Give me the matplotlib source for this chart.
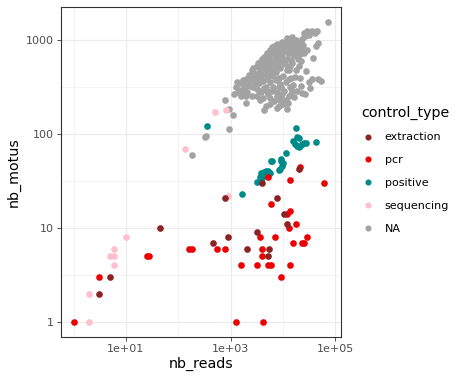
import matplotlib
matplotlib.use("Agg")
import matplotlib.pyplot as plt
from matplotlib.lines import Line2D
import numpy as np

# ---- data (nb_reads, nb_motus) per control_type ----
extraction_reads = [3, 5, 45, 468, 790, 877, 2050, 3170, 5370, 5300, 7740, 10700, 12000, 4070, 20000]
extraction_motus = [2, 3, 10, 7, 21, 8, 6, 9, 6, 5, 21, 14, 11, 30, 42]

pcr_reads = [1, 3, 25, 28, 163, 181, 557, 780, 1265, 4150, 1600, 3170, 3670, 3900, 3900,
             5200, 5960, 5860, 6980, 9350, 12000, 13900, 13100, 15600, 17600, 13900,
             23200, 24900, 29300, 5210, 13500, 20900, 61700]
pcr_motus = [1, 3, 5, 5, 6, 6, 6, 6, 1, 1, 4, 4, 8, 6, 5,
             4, 4, 18, 8, 3, 14, 15, 10, 7, 11, 4,
             7, 7, 8, 35, 32, 44, 30]

positive_reads = [360, 1670, 3220, 3620, 3840, 4310, 4710, 5140, 5610, 3950, 4190, 5800, 6200,
                  9230, 9050, 10070, 9500, 8720, 8300, 11670, 15400, 18600, 20000, 18100,
                  17300, 18600, 20000, 21500, 23200, 24900, 27700, 42900]
positive_motus = [120, 23, 31, 35, 38, 39, 40, 40, 38, 34, 36, 51, 51,
                  54, 51, 49, 46, 42, 41, 62, 85, 92, 90, 117,
                  78, 75, 72, 75, 78, 80, 81, 83]

sequencing_reads = [2, 2, 6, 5, 6, 6, 10, 133, 500, 826, 880]
sequencing_motus = [1, 2, 4, 5, 5, 6, 8, 69, 169, 180, 22]

na_reads = [776, 933, 1096, 933, 320, 339, 183, 74130,
            25119, 28840, 36310, 44670, 26920, 30900, 41690, 23440, 47860, 43650, 37150, 47860, 53700,
            1148, 1259, 1380, 1514, 1585, 1778, 1995, 1950, 2239, 2344, 2570, 2754, 3020, 3236, 3467,
            3715, 3981, 4266, 4266, 4677, 5012, 5012, 5370, 5754, 5888, 6166, 6761, 6918, 7244, 7762,
            7943, 8710, 8913, 9550, 10000, 10470, 11220, 11750, 12300, 12880, 13800, 14450, 14790,
            16220, 17380, 18620, 19950, 23440, 25700, 28840, 28180, 22390, 16220,
            4266, 4677, 5623, 6761, 7586, 8913, 11750, 11220, 12880, 9550, 7762, 5754, 3236, 2570,
            3715, 1995, 18620, 23440, 26920, 33110, 30900, 36310,
            1660, 1862, 2089, 2239, 2399, 2630, 2818, 2951, 3162, 3311, 3548, 3715, 3802, 3981, 4169,
            4467, 4571, 4786, 5012, 5248, 5495, 5623, 6026, 6310, 6457, 6607, 7079, 7244, 7413, 7586,
            8128, 8318, 8511, 8913, 9333, 9772, 10230, 10720, 10960, 11480, 12020, 12590, 13180, 13490,
            14130, 14790, 15140, 15850, 16600, 16980, 17780, 19050, 19950, 20890, 21380,
            9120, 10000, 8318, 5248, 4169, 14130, 12590, 12020, 15140, 17780,
            1318, 1479, 1738, 1905, 2138, 2512, 2692, 2884, 3388, 3631, 4074, 4365, 4898, 5129, 5754,
            6166, 6607, 6918, 7586, 7943, 8710, 9333, 10000, 10720, 11480, 12880, 13800, 15490, 18200,
            20890, 22390, 23990, 5012, 8318, 13490]
na_motus = [229, 182, 158, 112, 92, 94, 60, 1549,
            1175, 1230, 1259, 1259, 1096, 1122, 1175, 1023, 933, 871, 646, 380, 363,
            269, 316, 282, 347, 251, 309, 214, 380, 427, 324, 479, 380, 309, 525, 347,
            589, 427, 661, 309, 525, 724, 380, 589, 776, 468, 288, 851, 646, 372, 912,
            525, 724, 339, 955, 589, 288, 891, 479, 724, 380, 955, 617, 288,
            851, 407, 759, 525, 776, 724, 776, 468, 324, 245,
            178, 200, 209, 224, 191, 229, 186, 229, 251, 263, 251, 240, 251, 251,
            229, 251, 288, 275, 269, 309, 355, 380,
            282, 355, 282, 363, 417, 316, 447, 355, 417, 295, 501, 398, 282, 550, 363,
            457, 603, 316, 501, 417, 661, 355, 550, 724, 417, 316, 575, 794, 457, 282,
            661, 398, 832, 501, 316, 708, 417, 832, 550, 355, 631, 891, 479, 724,
            398, 832, 562, 331, 692, 955, 479, 631, 871, 398, 708,
            251, 209, 200, 263, 240, 263, 214, 1047, 1072, 1000,
            355, 295, 372, 316, 398, 380, 501, 398, 562, 457, 631, 501, 692, 575, 501,
            832, 603, 501, 724, 891, 603, 832, 759, 631, 955, 794, 525, 759, 832,
            955, 603, 891, 288, 316, 316]

categories = ["extraction", "pcr", "positive", "sequencing", "NA"]
colors = {"extraction": "#8B2323", "pcr": "#EE0000", "positive": "#008B8B",
          "sequencing": "#FFC0CB", "NA": "#A3A3A3"}

x_breaks = [10, 1000, 100000]
x_labels = ["1e+01", "1e+03", "1e+05"]
y_breaks = [1, 10, 100, 1000]
y_labels = ["1", "10", "100", "1000"]

fig = plt.figure(figsize=(4.74, 3.79), dpi=100)
ax = fig.add_axes([61/474, 1-337/379, 280/474, 330/379])

S = 23
series = [("NA", na_reads, na_motus),
          ("sequencing", sequencing_reads, sequencing_motus),
          ("positive", positive_reads, positive_motus),
          ("pcr", pcr_reads, pcr_motus),
          ("extraction", extraction_reads, extraction_motus)]
for name, xs, ys in series:
    ax.scatter(xs, ys, s=S, c=colors[name], linewidths=0, zorder=3)

ax.set_xscale("log")
ax.set_yscale("log")
ax.set_xlim(10**-0.24, 10**5.11)
ax.set_ylim(10**-0.16, 10**3.35)

ax.set_xticks(x_breaks)
ax.set_xticklabels(x_labels)
ax.set_yticks(y_breaks)
ax.set_yticklabels(y_labels)
ax.xaxis.set_minor_locator(matplotlib.ticker.FixedLocator([1, 100, 10000]))
ax.yaxis.set_minor_locator(matplotlib.ticker.FixedLocator([10**0.5, 10**1.5, 10**2.5]))
ax.xaxis.set_minor_formatter(matplotlib.ticker.NullFormatter())
ax.yaxis.set_minor_formatter(matplotlib.ticker.NullFormatter())

ax.grid(True, which="major", color="#EBEBEB", linewidth=0.8, zorder=0)
ax.grid(True, which="minor", color="#EBEBEB", linewidth=0.4, zorder=0)
ax.set_axisbelow(True)
for sp in ax.spines.values():
    sp.set_color("#333333")
    sp.set_linewidth(0.8)
ax.tick_params(which="major", length=3, width=0.6, color="#333333", labelsize=8,
               labelcolor="#4D4D4D", pad=2)
ax.tick_params(which="minor", length=0)

ax.set_xlabel("nb_reads", fontsize=10.3, labelpad=2)
ax.set_ylabel("nb_motus", fontsize=10.3, labelpad=4)

handles = [Line2D([0], [0], marker="o", linestyle="", markersize=4.4,
                  markerfacecolor=colors[c], markeredgewidth=0) for c in categories]
leg = fig.legend(handles, categories, loc="upper left", bbox_to_anchor=(357/474, 1-101/379),
                 frameon=False, fontsize=8, title="control_type", title_fontsize=10.3,
                 labelspacing=1.16, handlelength=1.2, handletextpad=0.9, borderaxespad=0)
leg._legend_box.align = "left"

fig.savefig("out.png", dpi=100)
